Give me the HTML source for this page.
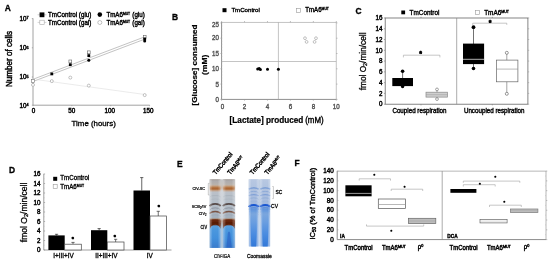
<!DOCTYPE html>
<html><head><meta charset="utf-8"><style>
html,body{margin:0;padding:0;background:#fff;}
body{width:550px;height:264px;overflow:hidden;}
svg{display:block;filter:blur(0.45px);font-family:"Liberation Sans",Arial,sans-serif;}
</style></head><body>
<svg width="550" height="264" viewBox="0 0 550 264">
<rect width="550" height="264" fill="#fff"/>
<text transform="translate(4.7,10.5) scale(0.86,1.0)" font-size="9.8" font-weight="bold" text-anchor="start" fill="#000" stroke="#000" style="stroke-width:0.36px" >A</text>
<line x1="37.6" y1="14.8" x2="46.4" y2="14.8" stroke="#aaa" stroke-width="0.6" />
<rect x="39.6" y="12.4" width="4.80" height="4.80" fill="#000" stroke="none" stroke-width="0.7"/>
<text transform="translate(48.0,17.2) scale(1,1.15)" font-size="6.25" font-weight="normal" text-anchor="start" fill="#000" stroke="#000" style="stroke-width:0.36px" >TmControl (glu)</text>
<line x1="37.6" y1="22.4" x2="46.4" y2="22.4" stroke="#bbb" stroke-width="0.6" />
<rect x="39.8" y="20.2" width="4.40" height="4.40" fill="#fff" stroke="#aaa" stroke-width="0.6"/>
<text transform="translate(48.0,25.1) scale(1,1.15)" font-size="6.25" font-weight="normal" text-anchor="start" fill="#000" stroke="#000" style="stroke-width:0.36px" >TmControl (gal)</text>
<circle cx="99.8" cy="14.6" r="2.3" fill="#000" stroke="none" stroke-width="0.7"/>
<text transform="translate(106.4,17.2) scale(1,1.15)" font-size="6.2" font-weight="normal" text-anchor="start" fill="#000" stroke="#000" style="stroke-width:0.36px" >TmA6<tspan font-size="3.3" dy="-1.7">MUT</tspan><tspan dy="1.7" dx="0.6"> (glu)</tspan></text>
<circle cx="99.8" cy="22.5" r="2.0" fill="#fff" stroke="#999" stroke-width="0.6"/>
<text transform="translate(106.4,25.1) scale(1,1.15)" font-size="6.2" font-weight="normal" text-anchor="start" fill="#000" stroke="#000" style="stroke-width:0.36px" >TmA6<tspan font-size="3.3" dy="-1.7">MUT</tspan><tspan dy="1.7" dx="0.6"> (gal)</tspan></text>
<line x1="33.0" y1="18.3" x2="33.0" y2="105.2" stroke="#8a8a8a" stroke-width="0.8" />
<line x1="33.0" y1="105.2" x2="149.7" y2="105.2" stroke="#8a8a8a" stroke-width="0.8" />
<line x1="31.8" y1="18.6" x2="33" y2="18.6" stroke="#888" stroke-width="0.6" />
<text transform="translate(28.6,21.0) scale(1,1.05)" font-size="6.3" font-weight="normal" text-anchor="end" fill="#000" stroke="#000" style="stroke-width:0.42px" >10<tspan font-size="3.8" dy="-1.6">7</tspan></text>
<line x1="31.8" y1="47.8" x2="33" y2="47.8" stroke="#888" stroke-width="0.6" />
<text transform="translate(28.6,50.199999999999996) scale(1,1.05)" font-size="6.3" font-weight="normal" text-anchor="end" fill="#000" stroke="#000" style="stroke-width:0.42px" >10<tspan font-size="3.8" dy="-1.6">6</tspan></text>
<line x1="31.8" y1="77.0" x2="33" y2="77.0" stroke="#888" stroke-width="0.6" />
<text transform="translate(28.6,79.4) scale(1,1.05)" font-size="6.3" font-weight="normal" text-anchor="end" fill="#000" stroke="#000" style="stroke-width:0.42px" >10<tspan font-size="3.8" dy="-1.6">5</tspan></text>
<line x1="31.8" y1="105.2" x2="33" y2="105.2" stroke="#888" stroke-width="0.6" />
<text transform="translate(28.6,107.60000000000001) scale(1,1.05)" font-size="6.3" font-weight="normal" text-anchor="end" fill="#000" stroke="#000" style="stroke-width:0.42px" >10<tspan font-size="3.8" dy="-1.6">4</tspan></text>
<line x1="33.0" y1="105.2" x2="33.0" y2="106.2" stroke="#888" stroke-width="0.6" />
<text transform="translate(33.4,112.7) scale(1,1.05)" font-size="6.3" font-weight="normal" text-anchor="middle" fill="#000" stroke="#000" style="stroke-width:0.42px" >0</text>
<line x1="71.86500000000001" y1="105.2" x2="71.86500000000001" y2="106.2" stroke="#888" stroke-width="0.6" />
<text transform="translate(71.8,112.7) scale(1,1.05)" font-size="6.3" font-weight="normal" text-anchor="middle" fill="#000" stroke="#000" style="stroke-width:0.42px" >50</text>
<line x1="110.73" y1="105.2" x2="110.73" y2="106.2" stroke="#888" stroke-width="0.6" />
<text transform="translate(109.8,112.7) scale(1,1.05)" font-size="6.3" font-weight="normal" text-anchor="middle" fill="#000" stroke="#000" style="stroke-width:0.42px" >100</text>
<line x1="149.595" y1="105.2" x2="149.595" y2="106.2" stroke="#888" stroke-width="0.6" />
<text transform="translate(148.2,112.7) scale(1,1.05)" font-size="6.3" font-weight="normal" text-anchor="middle" fill="#000" stroke="#000" style="stroke-width:0.42px" >150</text>
<text transform="translate(71.6,126.4) scale(1,1.0)" font-size="7.85" font-weight="normal" text-anchor="start" fill="#000" stroke="#000" style="stroke-width:0.32px" >Time (hours)</text>
<text transform="translate(12.4,58.9) rotate(-90) scale(1,1.12)" font-size="8.1" font-weight="normal" text-anchor="middle" fill="#000" stroke="#000" style="stroke-width:0.4px">Number of cells</text>
<line x1="33" y1="79.3" x2="143.8" y2="37.2" stroke="#bcbcbc" stroke-width="0.9" />
<line x1="33" y1="81.5" x2="143.8" y2="39.5" stroke="#bcbcbc" stroke-width="0.9" />
<line x1="38" y1="79.8" x2="145.5" y2="94.6" stroke="#dedede" stroke-width="0.6" />
<rect x="31.5" y="79.4" width="3.00" height="3.00" fill="#fff" stroke="#777" stroke-width="0.6"/>
<circle cx="33" cy="84.9" r="1.5" fill="#fff" stroke="#999" stroke-width="0.6"/>
<circle cx="51.8" cy="81.1" r="1.5" fill="#fff" stroke="#999" stroke-width="0.6"/>
<circle cx="70.3" cy="77.6" r="1.5" fill="#fff" stroke="#999" stroke-width="0.6"/>
<circle cx="88.8" cy="85.6" r="1.5" fill="#fff" stroke="#999" stroke-width="0.6"/>
<circle cx="144.7" cy="95.1" r="1.5" fill="#fff" stroke="#999" stroke-width="0.6"/>
<rect x="68.89999999999999" y="60.0" width="2.80" height="2.80" fill="#fff" stroke="#666" stroke-width="0.6"/>
<rect x="87.39999999999999" y="50.9" width="2.80" height="2.80" fill="#fff" stroke="#666" stroke-width="0.6"/>
<rect x="143.29999999999998" y="35.5" width="2.80" height="2.80" fill="#fff" stroke="#666" stroke-width="0.6"/>
<rect x="50.4" y="72.5" width="2.80" height="2.80" fill="#000" stroke="none" stroke-width="0.7"/>
<rect x="68.89999999999999" y="63.300000000000004" width="2.80" height="2.80" fill="#000" stroke="none" stroke-width="0.7"/>
<rect x="87.39999999999999" y="54.2" width="2.80" height="2.80" fill="#000" stroke="none" stroke-width="0.7"/>
<rect x="143.29999999999998" y="37.5" width="2.80" height="2.80" fill="#000" stroke="none" stroke-width="0.7"/>
<circle cx="88.8" cy="60.2" r="1.5" fill="#000" stroke="none" stroke-width="0.7"/>
<circle cx="144.7" cy="41.0" r="1.5" fill="#000" stroke="none" stroke-width="0.7"/>
<text transform="translate(172.0,20.2) scale(0.86,1.0)" font-size="9.8" font-weight="bold" text-anchor="start" fill="#000" stroke="#000" style="stroke-width:0.36px" >B</text>
<rect x="222.5" y="8.2" width="4.00" height="4.00" fill="#000" stroke="none" stroke-width="0.7"/>
<text transform="translate(231.4,12.4) scale(1,1.0)" font-size="6.1" font-weight="normal" text-anchor="start" fill="#000" stroke="#000" style="stroke-width:0.36px" >TmControl</text>
<rect x="296.5" y="8.4" width="4.00" height="4.00" fill="#fff" stroke="#999" stroke-width="0.6"/>
<text transform="translate(305.3,12.4) scale(1,1.05)" font-size="6.1" font-weight="normal" text-anchor="start" fill="#000" stroke="#000" style="stroke-width:0.36px" >TmA6<tspan font-size="3.4" dy="-2.0">MUT</tspan></text>
<rect x="221.6" y="22.3" width="114.60" height="77.10" fill="none" stroke="#aaa" stroke-width="0.7"/>
<line x1="221.6" y1="22.3" x2="221.6" y2="99.4" stroke="#888" stroke-width="0.8" />
<line x1="221.6" y1="99.4" x2="336.2" y2="99.4" stroke="#888" stroke-width="0.8" />
<line x1="220.29999999999998" y1="99.4" x2="221.6" y2="99.4" stroke="#999" stroke-width="0.6" />
<line x1="336.2" y1="99.4" x2="337.5" y2="99.4" stroke="#999" stroke-width="0.6" />
<text transform="translate(219.0,102.2) scale(1,1.15)" font-size="6.2" font-weight="normal" text-anchor="end" fill="#555" stroke="#555" style="stroke-width:0.36px" >0</text>
<line x1="220.29999999999998" y1="84.10000000000001" x2="221.6" y2="84.10000000000001" stroke="#999" stroke-width="0.6" />
<line x1="336.2" y1="84.10000000000001" x2="337.5" y2="84.10000000000001" stroke="#999" stroke-width="0.6" />
<text transform="translate(219.0,87.10000000000001) scale(1,1.15)" font-size="6.2" font-weight="normal" text-anchor="end" fill="#555" stroke="#555" style="stroke-width:0.36px" >5</text>
<line x1="220.29999999999998" y1="68.80000000000001" x2="221.6" y2="68.80000000000001" stroke="#999" stroke-width="0.6" />
<line x1="336.2" y1="68.80000000000001" x2="337.5" y2="68.80000000000001" stroke="#999" stroke-width="0.6" />
<text transform="translate(219.0,70.9) scale(1,1.15)" font-size="6.2" font-weight="normal" text-anchor="end" fill="#555" stroke="#555" style="stroke-width:0.36px" >10</text>
<line x1="220.29999999999998" y1="53.50000000000001" x2="221.6" y2="53.50000000000001" stroke="#999" stroke-width="0.6" />
<line x1="336.2" y1="53.50000000000001" x2="337.5" y2="53.50000000000001" stroke="#999" stroke-width="0.6" />
<text transform="translate(219.0,56.1) scale(1,1.15)" font-size="6.2" font-weight="normal" text-anchor="end" fill="#555" stroke="#555" style="stroke-width:0.36px" >15</text>
<line x1="220.29999999999998" y1="38.2" x2="221.6" y2="38.2" stroke="#999" stroke-width="0.6" />
<line x1="336.2" y1="38.2" x2="337.5" y2="38.2" stroke="#999" stroke-width="0.6" />
<text transform="translate(219.0,40.2) scale(1,1.15)" font-size="6.2" font-weight="normal" text-anchor="end" fill="#555" stroke="#555" style="stroke-width:0.36px" >20</text>
<line x1="220.29999999999998" y1="22.900000000000006" x2="221.6" y2="22.900000000000006" stroke="#999" stroke-width="0.6" />
<line x1="336.2" y1="22.900000000000006" x2="337.5" y2="22.900000000000006" stroke="#999" stroke-width="0.6" />
<text transform="translate(219.0,27.0) scale(1,1.15)" font-size="6.2" font-weight="normal" text-anchor="end" fill="#555" stroke="#555" style="stroke-width:0.36px" >25</text>
<line x1="221.6" y1="99.4" x2="222.4" y2="99.4" stroke="#bbb" stroke-width="0.4" />
<line x1="221.6" y1="96.34" x2="222.4" y2="96.34" stroke="#bbb" stroke-width="0.4" />
<line x1="221.6" y1="93.28" x2="222.4" y2="93.28" stroke="#bbb" stroke-width="0.4" />
<line x1="221.6" y1="90.22" x2="222.4" y2="90.22" stroke="#bbb" stroke-width="0.4" />
<line x1="221.6" y1="87.16000000000001" x2="222.4" y2="87.16000000000001" stroke="#bbb" stroke-width="0.4" />
<line x1="221.6" y1="84.10000000000001" x2="222.4" y2="84.10000000000001" stroke="#bbb" stroke-width="0.4" />
<line x1="221.6" y1="81.04" x2="222.4" y2="81.04" stroke="#bbb" stroke-width="0.4" />
<line x1="221.6" y1="77.98" x2="222.4" y2="77.98" stroke="#bbb" stroke-width="0.4" />
<line x1="221.6" y1="74.92" x2="222.4" y2="74.92" stroke="#bbb" stroke-width="0.4" />
<line x1="221.6" y1="71.86000000000001" x2="222.4" y2="71.86000000000001" stroke="#bbb" stroke-width="0.4" />
<line x1="221.6" y1="68.80000000000001" x2="222.4" y2="68.80000000000001" stroke="#bbb" stroke-width="0.4" />
<line x1="221.6" y1="65.74000000000001" x2="222.4" y2="65.74000000000001" stroke="#bbb" stroke-width="0.4" />
<line x1="221.6" y1="62.68000000000001" x2="222.4" y2="62.68000000000001" stroke="#bbb" stroke-width="0.4" />
<line x1="221.6" y1="59.620000000000005" x2="222.4" y2="59.620000000000005" stroke="#bbb" stroke-width="0.4" />
<line x1="221.6" y1="56.56" x2="222.4" y2="56.56" stroke="#bbb" stroke-width="0.4" />
<line x1="221.6" y1="53.50000000000001" x2="222.4" y2="53.50000000000001" stroke="#bbb" stroke-width="0.4" />
<line x1="221.6" y1="50.440000000000005" x2="222.4" y2="50.440000000000005" stroke="#bbb" stroke-width="0.4" />
<line x1="221.6" y1="47.38" x2="222.4" y2="47.38" stroke="#bbb" stroke-width="0.4" />
<line x1="221.6" y1="44.32000000000001" x2="222.4" y2="44.32000000000001" stroke="#bbb" stroke-width="0.4" />
<line x1="221.6" y1="41.260000000000005" x2="222.4" y2="41.260000000000005" stroke="#bbb" stroke-width="0.4" />
<line x1="221.6" y1="38.2" x2="222.4" y2="38.2" stroke="#bbb" stroke-width="0.4" />
<line x1="221.6" y1="35.14" x2="222.4" y2="35.14" stroke="#bbb" stroke-width="0.4" />
<line x1="221.6" y1="32.08" x2="222.4" y2="32.08" stroke="#bbb" stroke-width="0.4" />
<line x1="221.6" y1="29.02000000000001" x2="222.4" y2="29.02000000000001" stroke="#bbb" stroke-width="0.4" />
<line x1="221.6" y1="25.960000000000008" x2="222.4" y2="25.960000000000008" stroke="#bbb" stroke-width="0.4" />
<line x1="221.6" y1="22.900000000000006" x2="222.4" y2="22.900000000000006" stroke="#bbb" stroke-width="0.4" />
<line x1="221.6" y1="99.4" x2="221.6" y2="100.7" stroke="#999" stroke-width="0.6" />
<line x1="221.6" y1="21.0" x2="221.6" y2="22.3" stroke="#999" stroke-width="0.6" />
<text transform="translate(222.6,108.7) scale(1,1.15)" font-size="6.2" font-weight="normal" text-anchor="middle" fill="#555" stroke="#555" style="stroke-width:0.36px" >0</text>
<line x1="244.54" y1="99.4" x2="244.54" y2="100.7" stroke="#999" stroke-width="0.6" />
<line x1="244.54" y1="21.0" x2="244.54" y2="22.3" stroke="#999" stroke-width="0.6" />
<text transform="translate(244.54,108.7) scale(1,1.15)" font-size="6.2" font-weight="normal" text-anchor="middle" fill="#555" stroke="#555" style="stroke-width:0.36px" >2</text>
<line x1="267.48" y1="99.4" x2="267.48" y2="100.7" stroke="#999" stroke-width="0.6" />
<line x1="267.48" y1="21.0" x2="267.48" y2="22.3" stroke="#999" stroke-width="0.6" />
<text transform="translate(267.48,108.7) scale(1,1.15)" font-size="6.2" font-weight="normal" text-anchor="middle" fill="#555" stroke="#555" style="stroke-width:0.36px" >4</text>
<line x1="290.42" y1="99.4" x2="290.42" y2="100.7" stroke="#999" stroke-width="0.6" />
<line x1="290.42" y1="21.0" x2="290.42" y2="22.3" stroke="#999" stroke-width="0.6" />
<text transform="translate(290.42,108.7) scale(1,1.15)" font-size="6.2" font-weight="normal" text-anchor="middle" fill="#555" stroke="#555" style="stroke-width:0.36px" >6</text>
<line x1="313.36" y1="99.4" x2="313.36" y2="100.7" stroke="#999" stroke-width="0.6" />
<line x1="313.36" y1="21.0" x2="313.36" y2="22.3" stroke="#999" stroke-width="0.6" />
<text transform="translate(313.36,108.7) scale(1,1.15)" font-size="6.2" font-weight="normal" text-anchor="middle" fill="#555" stroke="#555" style="stroke-width:0.36px" >8</text>
<line x1="336.3" y1="99.4" x2="336.3" y2="100.7" stroke="#999" stroke-width="0.6" />
<line x1="336.3" y1="21.0" x2="336.3" y2="22.3" stroke="#999" stroke-width="0.6" />
<text transform="translate(336.3,108.7) scale(1,1.15)" font-size="6.2" font-weight="normal" text-anchor="middle" fill="#555" stroke="#555" style="stroke-width:0.36px" >10</text>
<line x1="278.4" y1="22.3" x2="278.4" y2="99.4" stroke="#aaa" stroke-width="0.7" />
<line x1="221.6" y1="61.5" x2="336.2" y2="61.5" stroke="#aaa" stroke-width="0.7" />
<circle cx="257.7" cy="69.0" r="1.5" fill="#000" stroke="none" stroke-width="0.7"/>
<circle cx="259.2" cy="68.4" r="1.5" fill="#000" stroke="none" stroke-width="0.7"/>
<circle cx="260.4" cy="69.4" r="1.5" fill="#000" stroke="none" stroke-width="0.7"/>
<circle cx="267.5" cy="69.2" r="1.5" fill="#000" stroke="none" stroke-width="0.7"/>
<circle cx="278.4" cy="69.2" r="1.5" fill="#000" stroke="none" stroke-width="0.7"/>
<circle cx="305" cy="38.2" r="1.4" fill="#fff" stroke="#999" stroke-width="0.6"/>
<circle cx="306.6" cy="41.9" r="1.4" fill="#fff" stroke="#999" stroke-width="0.6"/>
<circle cx="316" cy="38.2" r="1.4" fill="#fff" stroke="#999" stroke-width="0.6"/>
<circle cx="314.6" cy="41.9" r="1.4" fill="#fff" stroke="#999" stroke-width="0.6"/>
<text transform="translate(197.0,65.0) rotate(-90) scale(1,0.95)" font-size="8.2" font-weight="bold" text-anchor="middle" fill="#000" stroke="#000" style="stroke-width:0.22px">[Glucose] consumed</text>
<text transform="translate(207.1,64.8) rotate(-90) scale(1,0.9)" font-size="8.5" font-weight="bold" text-anchor="middle" fill="#000" stroke="#000" style="stroke-width:0.22px">(mM)</text>
<text transform="translate(229.6,122.5) scale(1,1.1)" font-size="8.2" font-weight="bold" text-anchor="start" fill="#000" stroke="#000" style="stroke-width:0.22px" >[Lactate] produced</text>
<text transform="translate(305.2,122.5) scale(1,1.05)" font-size="7.9" font-weight="normal" text-anchor="start" fill="#000" stroke="#000" style="stroke-width:0.36px" >(mM)</text>
<text transform="translate(355.6,13.6) scale(0.86,1.0)" font-size="9.8" font-weight="bold" text-anchor="start" fill="#000" stroke="#000" style="stroke-width:0.36px" >C</text>
<rect x="401.3" y="10.5" width="3.80" height="3.80" fill="#000" stroke="none" stroke-width="0.7"/>
<text transform="translate(409.6,14.9) scale(1,1.05)" font-size="6.4" font-weight="normal" text-anchor="start" fill="#000" stroke="#000" style="stroke-width:0.36px" >TmControl</text>
<rect x="475.6" y="10.5" width="3.80" height="3.80" fill="#fff" stroke="#999" stroke-width="0.6"/>
<text transform="translate(484.2,14.9) scale(1,1.05)" font-size="6.4" font-weight="normal" text-anchor="start" fill="#000" stroke="#000" style="stroke-width:0.36px" >TmA6<tspan font-size="3.6" dy="-1.6">MUT</tspan></text>
<rect x="385.2" y="18.0" width="142.70" height="86.20" fill="none" stroke="#666" stroke-width="0.8"/>
<line x1="456.7" y1="18.0" x2="456.7" y2="104.2" stroke="#888" stroke-width="0.7" />
<line x1="383.9" y1="104.2" x2="385.2" y2="104.2" stroke="#777" stroke-width="0.6" />
<line x1="527.9" y1="104.2" x2="529.1999999999999" y2="104.2" stroke="#999" stroke-width="0.6" />
<text transform="translate(382.6,106.4) scale(1,1.05)" font-size="6.3" font-weight="normal" text-anchor="end" fill="#000" stroke="#000" style="stroke-width:0.42px" >0</text>
<line x1="383.9" y1="93.42" x2="385.2" y2="93.42" stroke="#777" stroke-width="0.6" />
<line x1="527.9" y1="93.42" x2="529.1999999999999" y2="93.42" stroke="#999" stroke-width="0.6" />
<text transform="translate(382.6,95.62) scale(1,1.05)" font-size="6.3" font-weight="normal" text-anchor="end" fill="#000" stroke="#000" style="stroke-width:0.42px" >2</text>
<line x1="383.9" y1="82.64" x2="385.2" y2="82.64" stroke="#777" stroke-width="0.6" />
<line x1="527.9" y1="82.64" x2="529.1999999999999" y2="82.64" stroke="#999" stroke-width="0.6" />
<text transform="translate(382.6,84.84) scale(1,1.05)" font-size="6.3" font-weight="normal" text-anchor="end" fill="#000" stroke="#000" style="stroke-width:0.42px" >4</text>
<line x1="383.9" y1="71.86000000000001" x2="385.2" y2="71.86000000000001" stroke="#777" stroke-width="0.6" />
<line x1="527.9" y1="71.86000000000001" x2="529.1999999999999" y2="71.86000000000001" stroke="#999" stroke-width="0.6" />
<text transform="translate(382.6,74.06000000000002) scale(1,1.05)" font-size="6.3" font-weight="normal" text-anchor="end" fill="#000" stroke="#000" style="stroke-width:0.42px" >6</text>
<line x1="383.9" y1="61.080000000000005" x2="385.2" y2="61.080000000000005" stroke="#777" stroke-width="0.6" />
<line x1="527.9" y1="61.080000000000005" x2="529.1999999999999" y2="61.080000000000005" stroke="#999" stroke-width="0.6" />
<text transform="translate(382.6,63.28000000000001) scale(1,1.05)" font-size="6.3" font-weight="normal" text-anchor="end" fill="#000" stroke="#000" style="stroke-width:0.42px" >8</text>
<line x1="383.9" y1="50.300000000000004" x2="385.2" y2="50.300000000000004" stroke="#777" stroke-width="0.6" />
<line x1="527.9" y1="50.300000000000004" x2="529.1999999999999" y2="50.300000000000004" stroke="#999" stroke-width="0.6" />
<text transform="translate(382.6,52.50000000000001) scale(1,1.05)" font-size="6.3" font-weight="normal" text-anchor="end" fill="#000" stroke="#000" style="stroke-width:0.42px" >10</text>
<line x1="383.9" y1="39.52000000000001" x2="385.2" y2="39.52000000000001" stroke="#777" stroke-width="0.6" />
<line x1="527.9" y1="39.52000000000001" x2="529.1999999999999" y2="39.52000000000001" stroke="#999" stroke-width="0.6" />
<text transform="translate(382.6,41.72000000000001) scale(1,1.05)" font-size="6.3" font-weight="normal" text-anchor="end" fill="#000" stroke="#000" style="stroke-width:0.42px" >12</text>
<line x1="383.9" y1="28.74000000000001" x2="385.2" y2="28.74000000000001" stroke="#777" stroke-width="0.6" />
<line x1="527.9" y1="28.74000000000001" x2="529.1999999999999" y2="28.74000000000001" stroke="#999" stroke-width="0.6" />
<text transform="translate(382.6,30.94000000000001) scale(1,1.05)" font-size="6.3" font-weight="normal" text-anchor="end" fill="#000" stroke="#000" style="stroke-width:0.42px" >14</text>
<line x1="383.9" y1="17.960000000000008" x2="385.2" y2="17.960000000000008" stroke="#777" stroke-width="0.6" />
<line x1="527.9" y1="17.960000000000008" x2="529.1999999999999" y2="17.960000000000008" stroke="#999" stroke-width="0.6" />
<text transform="translate(382.6,20.160000000000007) scale(1,1.05)" font-size="6.3" font-weight="normal" text-anchor="end" fill="#000" stroke="#000" style="stroke-width:0.42px" >16</text>
<line x1="385.2" y1="104.2" x2="386.0" y2="104.2" stroke="#aaa" stroke-width="0.4" />
<line x1="385.2" y1="98.81" x2="386.0" y2="98.81" stroke="#aaa" stroke-width="0.4" />
<line x1="385.2" y1="93.42" x2="386.0" y2="93.42" stroke="#aaa" stroke-width="0.4" />
<line x1="385.2" y1="88.03" x2="386.0" y2="88.03" stroke="#aaa" stroke-width="0.4" />
<line x1="385.2" y1="82.64" x2="386.0" y2="82.64" stroke="#aaa" stroke-width="0.4" />
<line x1="385.2" y1="77.25" x2="386.0" y2="77.25" stroke="#aaa" stroke-width="0.4" />
<line x1="385.2" y1="71.86000000000001" x2="386.0" y2="71.86000000000001" stroke="#aaa" stroke-width="0.4" />
<line x1="385.2" y1="66.47" x2="386.0" y2="66.47" stroke="#aaa" stroke-width="0.4" />
<line x1="385.2" y1="61.080000000000005" x2="386.0" y2="61.080000000000005" stroke="#aaa" stroke-width="0.4" />
<line x1="385.2" y1="55.690000000000005" x2="386.0" y2="55.690000000000005" stroke="#aaa" stroke-width="0.4" />
<line x1="385.2" y1="50.300000000000004" x2="386.0" y2="50.300000000000004" stroke="#aaa" stroke-width="0.4" />
<line x1="385.2" y1="44.910000000000004" x2="386.0" y2="44.910000000000004" stroke="#aaa" stroke-width="0.4" />
<line x1="385.2" y1="39.52000000000001" x2="386.0" y2="39.52000000000001" stroke="#aaa" stroke-width="0.4" />
<line x1="385.2" y1="34.13000000000001" x2="386.0" y2="34.13000000000001" stroke="#aaa" stroke-width="0.4" />
<line x1="385.2" y1="28.74000000000001" x2="386.0" y2="28.74000000000001" stroke="#aaa" stroke-width="0.4" />
<line x1="385.2" y1="23.35000000000001" x2="386.0" y2="23.35000000000001" stroke="#aaa" stroke-width="0.4" />
<line x1="385.2" y1="17.960000000000008" x2="386.0" y2="17.960000000000008" stroke="#aaa" stroke-width="0.4" />
<line x1="421" y1="104.2" x2="421" y2="105.4" stroke="#777" stroke-width="0.6" />
<line x1="421" y1="16.8" x2="421" y2="18.0" stroke="#777" stroke-width="0.6" />
<line x1="492.3" y1="104.2" x2="492.3" y2="105.4" stroke="#777" stroke-width="0.6" />
<line x1="492.3" y1="16.8" x2="492.3" y2="18.0" stroke="#777" stroke-width="0.6" />
<line x1="402.6" y1="71" x2="402.6" y2="86.5" stroke="#333" stroke-width="0.7" />
<rect x="392.3" y="78" width="20.70" height="8.10" fill="#000" stroke="none" stroke-width="0.8"/>
<circle cx="402.6" cy="71.2" r="1.8" fill="#000" stroke="none" stroke-width="0.7"/>
<circle cx="402.6" cy="86.6" r="1.7" fill="#000" stroke="none" stroke-width="0.7"/>
<line x1="437" y1="89.3" x2="437" y2="99.1" stroke="#777" stroke-width="0.6" />
<rect x="426" y="92.2" width="21.40" height="4.90" fill="#cfcfcf" stroke="#888" stroke-width="0.7"/>
<line x1="426" y1="94.7" x2="447.4" y2="94.7" stroke="#999" stroke-width="0.5" />
<circle cx="437" cy="89.4" r="1.4" fill="#fff" stroke="#666" stroke-width="0.6"/>
<circle cx="437" cy="99.1" r="1.4" fill="#fff" stroke="#666" stroke-width="0.6"/>
<polyline points="403.4,57.4 403.4,55.2 439.9,55.2 439.9,57.4" fill="none" stroke="#999" stroke-width="0.55"/>
<text transform="translate(420.7,55.894999999999996) scale(1,1.0)" font-size="7.0" font-weight="bold" text-anchor="middle" fill="#000" stroke="#000" style="stroke-width:0.6px" >*</text>
<line x1="473.5" y1="27" x2="473.5" y2="68.6" stroke="#333" stroke-width="0.7" />
<rect x="463" y="43.6" width="21.10" height="20.50" fill="#000" stroke="none" stroke-width="0.8"/>
<line x1="463" y1="59.3" x2="484.1" y2="59.3" stroke="#ddd" stroke-width="0.8" />
<circle cx="473.5" cy="27.2" r="1.9" fill="#000" stroke="none" stroke-width="0.7"/>
<circle cx="473.5" cy="68.5" r="1.8" fill="#000" stroke="none" stroke-width="0.7"/>
<line x1="506.8" y1="52.7" x2="506.8" y2="93.8" stroke="#666" stroke-width="0.6" />
<rect x="496.4" y="60.1" width="21.50" height="21.70" fill="#fff" stroke="#666" stroke-width="0.7"/>
<line x1="496.4" y1="69.1" x2="517.9" y2="69.1" stroke="#888" stroke-width="0.6" />
<circle cx="506.8" cy="52.8" r="1.5" fill="#fff" stroke="#555" stroke-width="0.6"/>
<circle cx="506.8" cy="93.8" r="1.5" fill="#fff" stroke="#555" stroke-width="0.6"/>
<polyline points="472.7,24.9 472.7,23.2 506.8,23.2 506.8,24.9" fill="none" stroke="#999" stroke-width="0.55"/>
<text transform="translate(490.2,24.895) scale(1,1.0)" font-size="7.0" font-weight="bold" text-anchor="middle" fill="#000" stroke="#000" style="stroke-width:0.6px" >*</text>
<text transform="translate(392.4,112.8) scale(1,1.15)" font-size="6.25" font-weight="normal" text-anchor="start" fill="#000" stroke="#000" style="stroke-width:0.36px" >Coupled respiration</text>
<text transform="translate(463.9,112.8) scale(1,1.15)" font-size="6.25" font-weight="normal" text-anchor="start" fill="#000" stroke="#000" style="stroke-width:0.36px" >Uncoupled respiration</text>
<text transform="translate(365.6,61.4) rotate(-90) scale(1,1.0)" font-size="8.3" font-weight="normal" text-anchor="middle" fill="#000" stroke="#000" style="stroke-width:0.28px">fmol O<tspan font-size="5.4" dy="1.2">2</tspan><tspan dy="-1.2">/min/cell</tspan></text>
<text transform="translate(8.9,173.4) scale(0.86,1.0)" font-size="9.8" font-weight="bold" text-anchor="start" fill="#000" stroke="#000" style="stroke-width:0.36px" >D</text>
<line x1="43.8" y1="173.8" x2="43.8" y2="250.0" stroke="#888" stroke-width="0.8" />
<line x1="43.8" y1="250.0" x2="171.5" y2="250.0" stroke="#888" stroke-width="0.8" />
<line x1="43.8" y1="250.0" x2="45.099999999999994" y2="250.0" stroke="#888" stroke-width="0.6" />
<text transform="translate(40.6,252.3) scale(1,1.05)" font-size="6.3" font-weight="normal" text-anchor="end" fill="#000" stroke="#000" style="stroke-width:0.42px" >0</text>
<line x1="43.8" y1="240.5" x2="45.099999999999994" y2="240.5" stroke="#888" stroke-width="0.6" />
<text transform="translate(40.6,242.8) scale(1,1.05)" font-size="6.3" font-weight="normal" text-anchor="end" fill="#000" stroke="#000" style="stroke-width:0.42px" >2</text>
<line x1="43.8" y1="231.0" x2="45.099999999999994" y2="231.0" stroke="#888" stroke-width="0.6" />
<text transform="translate(40.6,233.3) scale(1,1.05)" font-size="6.3" font-weight="normal" text-anchor="end" fill="#000" stroke="#000" style="stroke-width:0.42px" >4</text>
<line x1="43.8" y1="221.5" x2="45.099999999999994" y2="221.5" stroke="#888" stroke-width="0.6" />
<text transform="translate(40.6,223.8) scale(1,1.05)" font-size="6.3" font-weight="normal" text-anchor="end" fill="#000" stroke="#000" style="stroke-width:0.42px" >6</text>
<line x1="43.8" y1="212.0" x2="45.099999999999994" y2="212.0" stroke="#888" stroke-width="0.6" />
<text transform="translate(40.6,214.3) scale(1,1.05)" font-size="6.3" font-weight="normal" text-anchor="end" fill="#000" stroke="#000" style="stroke-width:0.42px" >8</text>
<line x1="43.8" y1="202.5" x2="45.099999999999994" y2="202.5" stroke="#888" stroke-width="0.6" />
<text transform="translate(40.6,204.8) scale(1,1.05)" font-size="6.3" font-weight="normal" text-anchor="end" fill="#000" stroke="#000" style="stroke-width:0.42px" >10</text>
<line x1="43.8" y1="193.0" x2="45.099999999999994" y2="193.0" stroke="#888" stroke-width="0.6" />
<text transform="translate(40.6,195.3) scale(1,1.05)" font-size="6.3" font-weight="normal" text-anchor="end" fill="#000" stroke="#000" style="stroke-width:0.42px" >12</text>
<line x1="43.8" y1="183.5" x2="45.099999999999994" y2="183.5" stroke="#888" stroke-width="0.6" />
<text transform="translate(40.6,185.8) scale(1,1.05)" font-size="6.3" font-weight="normal" text-anchor="end" fill="#000" stroke="#000" style="stroke-width:0.42px" >14</text>
<line x1="43.8" y1="174.0" x2="45.099999999999994" y2="174.0" stroke="#888" stroke-width="0.6" />
<text transform="translate(40.6,176.3) scale(1,1.05)" font-size="6.3" font-weight="normal" text-anchor="end" fill="#000" stroke="#000" style="stroke-width:0.42px" >16</text>
<line x1="43.8" y1="245.25" x2="44.599999999999994" y2="245.25" stroke="#aaa" stroke-width="0.4" />
<line x1="43.8" y1="235.75" x2="44.599999999999994" y2="235.75" stroke="#aaa" stroke-width="0.4" />
<line x1="43.8" y1="226.25" x2="44.599999999999994" y2="226.25" stroke="#aaa" stroke-width="0.4" />
<line x1="43.8" y1="216.75" x2="44.599999999999994" y2="216.75" stroke="#aaa" stroke-width="0.4" />
<line x1="43.8" y1="207.25" x2="44.599999999999994" y2="207.25" stroke="#aaa" stroke-width="0.4" />
<line x1="43.8" y1="197.75" x2="44.599999999999994" y2="197.75" stroke="#aaa" stroke-width="0.4" />
<line x1="43.8" y1="188.25" x2="44.599999999999994" y2="188.25" stroke="#aaa" stroke-width="0.4" />
<line x1="43.8" y1="178.75" x2="44.599999999999994" y2="178.75" stroke="#aaa" stroke-width="0.4" />
<rect x="53.2" y="176.8" width="4.00" height="4.00" fill="#000" stroke="none" stroke-width="0.7"/>
<text transform="translate(60.3,179.9) scale(1,1.15)" font-size="6.2" font-weight="normal" text-anchor="start" fill="#000" stroke="#000" style="stroke-width:0.3px" >TmControl</text>
<rect x="53.2" y="184.3" width="4.00" height="4.00" fill="#fff" stroke="#999" stroke-width="0.6"/>
<text transform="translate(60.3,189.2) scale(1,1.15)" font-size="6.2" font-weight="normal" text-anchor="start" fill="#000" stroke="#000" style="stroke-width:0.3px" >TmA6<tspan font-size="3.4" dy="-1.5">MUT</tspan></text>
<line x1="56.55" y1="234.3" x2="56.55" y2="235.4" stroke="#222" stroke-width="0.7" />
<line x1="54.949999999999996" y1="234.3" x2="58.15" y2="234.3" stroke="#222" stroke-width="0.7" />
<rect x="48.4" y="235.4" width="16.30" height="14.60" fill="#000" stroke="none" stroke-width="0.8"/>
<line x1="73.0" y1="242.4" x2="73.0" y2="244.2" stroke="#333" stroke-width="0.7" />
<line x1="71.4" y1="242.4" x2="74.6" y2="242.4" stroke="#333" stroke-width="0.7" />
<rect x="64.7" y="244.2" width="16.60" height="5.80" fill="#fff" stroke="#444" stroke-width="0.7"/>
<text transform="translate(72.9,241.059) scale(1,1.0)" font-size="5.4" font-weight="bold" text-anchor="middle" fill="#000" stroke="#000" style="stroke-width:0.6px" >*</text>
<line x1="99.15" y1="228.6" x2="99.15" y2="230.2" stroke="#222" stroke-width="0.7" />
<line x1="97.55000000000001" y1="228.6" x2="100.75" y2="228.6" stroke="#222" stroke-width="0.7" />
<rect x="91.0" y="230.2" width="16.30" height="19.80" fill="#000" stroke="none" stroke-width="0.8"/>
<line x1="115.65" y1="239.3" x2="115.65" y2="242.0" stroke="#333" stroke-width="0.7" />
<line x1="114.05000000000001" y1="239.3" x2="117.25" y2="239.3" stroke="#333" stroke-width="0.7" />
<rect x="107.3" y="242.0" width="16.70" height="8.00" fill="#fff" stroke="#444" stroke-width="0.7"/>
<text transform="translate(114.7,238.759) scale(1,1.0)" font-size="5.4" font-weight="bold" text-anchor="middle" fill="#000" stroke="#000" style="stroke-width:0.6px" >*</text>
<line x1="141.75" y1="177.6" x2="141.75" y2="190.5" stroke="#222" stroke-width="0.7" />
<line x1="140.15" y1="177.6" x2="143.35" y2="177.6" stroke="#222" stroke-width="0.7" />
<rect x="133.5" y="190.5" width="16.50" height="59.50" fill="#000" stroke="none" stroke-width="0.8"/>
<line x1="158.25" y1="211.3" x2="158.25" y2="216.0" stroke="#333" stroke-width="0.7" />
<line x1="156.65" y1="211.3" x2="159.85" y2="211.3" stroke="#333" stroke-width="0.7" />
<rect x="150.0" y="216.0" width="16.50" height="34.00" fill="#fff" stroke="#444" stroke-width="0.7"/>
<text transform="translate(158.7,208.959) scale(1,1.0)" font-size="5.4" font-weight="bold" text-anchor="middle" fill="#000" stroke="#000" style="stroke-width:0.6px" >*</text>
<text transform="translate(63.5,258.4) scale(1,1.15)" font-size="6.4" font-weight="normal" text-anchor="middle" fill="#000" stroke="#000" style="stroke-width:0.3px" >I+III+IV</text>
<text transform="translate(106.3,258.4) scale(1,1.15)" font-size="6.4" font-weight="normal" text-anchor="middle" fill="#000" stroke="#000" style="stroke-width:0.3px" >II+III+IV</text>
<text transform="translate(149.8,258.4) scale(1,1.15)" font-size="6.4" font-weight="normal" text-anchor="middle" fill="#000" stroke="#000" style="stroke-width:0.3px" >IV</text>
<text transform="translate(27.0,212.4) rotate(-90) scale(1,1.0)" font-size="8.55" font-weight="normal" text-anchor="middle" fill="#000" stroke="#000" style="stroke-width:0.28px">fmol O<tspan font-size="5.6" dy="1.2">2</tspan><tspan dy="-1.2">/min/cell</tspan></text>
<text transform="translate(176.9,166.9) scale(0.86,1.0)" font-size="9.8" font-weight="bold" text-anchor="start" fill="#000" stroke="#000" style="stroke-width:0.36px" >E</text>
<defs><linearGradient id="gl1" gradientUnits="userSpaceOnUse" x1="0" y1="179.3" x2="0" y2="247.9"><stop offset="0.0000" stop-color="#a29a94"/><stop offset="0.0248" stop-color="#aeacae"/><stop offset="0.0758" stop-color="#b8b2ac"/><stop offset="0.0948" stop-color="#c4a68c"/><stop offset="0.1152" stop-color="#b87c4a"/><stop offset="0.1327" stop-color="#ac6634"/><stop offset="0.1501" stop-color="#b47a4c"/><stop offset="0.1676" stop-color="#c4aa98"/><stop offset="0.1880" stop-color="#bac0c8"/><stop offset="0.3382" stop-color="#b4bec8"/><stop offset="0.4038" stop-color="#b2bcc6"/><stop offset="0.4913" stop-color="#a8b4c0"/><stop offset="0.5569" stop-color="#a4b0bc"/><stop offset="0.5758" stop-color="#a49284"/><stop offset="0.5904" stop-color="#7a3414"/><stop offset="0.6224" stop-color="#5e1e06"/><stop offset="0.6516" stop-color="#6a2a10"/><stop offset="0.6837" stop-color="#5a9edc"/><stop offset="0.7245" stop-color="#4c98de"/><stop offset="0.8557" stop-color="#4290dc"/><stop offset="1.0000" stop-color="#3a7ccc"/></linearGradient><linearGradient id="gg1" gradientUnits="userSpaceOnUse" x1="0" y1="179.3" x2="0" y2="247.9"><stop offset="0.0000" stop-color="#c4c6c8"/><stop offset="0.0831" stop-color="#cac6c2"/><stop offset="0.1268" stop-color="#cfb8a6"/><stop offset="0.1706" stop-color="#d2d6dc"/><stop offset="0.5641" stop-color="#c8d0d8"/><stop offset="0.6079" stop-color="#b89a8a"/><stop offset="0.6662" stop-color="#b0b4bc"/><stop offset="0.7391" stop-color="#a8c4e0"/><stop offset="1.0000" stop-color="#a8c2dc"/></linearGradient><linearGradient id="gl2" gradientUnits="userSpaceOnUse" x1="0" y1="179.3" x2="0" y2="246.4"><stop offset="0.0000" stop-color="#b8c8e2"/><stop offset="0.1073" stop-color="#b2c4e0"/><stop offset="0.1744" stop-color="#aec0de"/><stop offset="0.3085" stop-color="#a8bcde"/><stop offset="0.3681" stop-color="#a2b8dc"/><stop offset="0.4277" stop-color="#6e9cdc"/><stop offset="0.4873" stop-color="#86aade"/><stop offset="0.5917" stop-color="#98b8e2"/><stop offset="0.6960" stop-color="#88aee2"/><stop offset="0.8450" stop-color="#80a8e0"/><stop offset="1.0000" stop-color="#7aa4e0"/></linearGradient><linearGradient id="gg2" gradientUnits="userSpaceOnUse" x1="0" y1="179.3" x2="0" y2="246.4"><stop offset="0.0000" stop-color="#c2d0e4"/><stop offset="0.3681" stop-color="#bccce2"/><stop offset="0.3979" stop-color="#96b6e2"/><stop offset="0.4277" stop-color="#c2d4ea"/><stop offset="1.0000" stop-color="#cadaee"/></linearGradient><linearGradient id="gw2" gradientUnits="userSpaceOnUse" x1="0" y1="209" x2="0" y2="246.4"><stop offset="0.0000" stop-color="#5c94dc"/><stop offset="0.1337" stop-color="#7aa6de"/><stop offset="0.3476" stop-color="#6a9ee0"/><stop offset="0.6684" stop-color="#4a8ce0"/><stop offset="1.0000" stop-color="#3278d8"/></linearGradient><linearGradient id="hz" x1="0" y1="0" x2="1" y2="0"><stop offset="0" stop-color="#fff" stop-opacity="0.35"/><stop offset="0.25" stop-color="#fff" stop-opacity="0"/><stop offset="0.75" stop-color="#fff" stop-opacity="0"/><stop offset="1" stop-color="#fff" stop-opacity="0.3"/></linearGradient></defs>
<rect x="209.4" y="179.3" width="25.8" height="68.6" fill="url(#gg1)"/>
<rect x="210.0" y="179.3" width="10.4" height="68.6" fill="url(#gl1)"/>
<path d="M210.0,196.8 Q210.8,195.52 215.2,195.52 Q219.6,195.52 220.4,196.8" fill="none" stroke="#a4acb6" stroke-width="0.8" opacity="0.7"/>
<path d="M210.0,200.3 Q210.8,199.02 215.2,199.02 Q219.6,199.02 220.4,200.3" fill="none" stroke="#a8b0ba" stroke-width="0.7" opacity="0.6"/>
<path d="M210.0,206.20000000000002 Q210.8,203.96 215.2,203.96 Q219.6,203.96 220.4,206.20000000000002" fill="none" stroke="#564a48" stroke-width="1.8" opacity="1"/>
<path d="M210.0,209.79999999999998 Q210.8,207.88 215.2,207.88 Q219.6,207.88 220.4,209.79999999999998" fill="none" stroke="#8a909c" stroke-width="1.0" opacity="0.9"/>
<path d="M210.0,213.60000000000002 Q210.8,211.52 215.2,211.52 Q219.6,211.52 220.4,213.60000000000002" fill="none" stroke="#7a5444" stroke-width="1.4" opacity="1"/>
<path d="M210.0,216.4 Q210.8,214.8 215.2,214.8 Q219.6,214.8 220.4,216.4" fill="none" stroke="#98a2ae" stroke-width="0.8" opacity="0.7"/>
<path d="M210.0,220.6 Q215.2,218.2 220.4,220.6 L220.4,228.8 Q219.20000000000002,225.0 215.2,224.6 Q211.2,225.0 210.0,228.8 Z" fill="#66240c"/>
<path d="M210.0,223.0 Q215.2,220.4 220.4,223.0 L220.4,226.5 Q215.2,221.8 210.0,226.5 Z" fill="#561a04" opacity="0.8"/>
<rect x="210.0" y="179.3" width="10.4" height="68.6" fill="url(#hz)"/>
<rect x="223.2" y="179.3" width="11.4" height="68.6" fill="url(#gl1)"/>
<path d="M223.2,196.8 Q224.0,195.52 228.89999999999998,195.52 Q233.79999999999998,195.52 234.6,196.8" fill="none" stroke="#a4acb6" stroke-width="0.8" opacity="0.7"/>
<path d="M223.2,200.3 Q224.0,199.02 228.89999999999998,199.02 Q233.79999999999998,199.02 234.6,200.3" fill="none" stroke="#a8b0ba" stroke-width="0.7" opacity="0.6"/>
<path d="M223.2,206.20000000000002 Q224.0,203.96 228.89999999999998,203.96 Q233.79999999999998,203.96 234.6,206.20000000000002" fill="none" stroke="#564a48" stroke-width="1.8" opacity="1"/>
<path d="M223.2,209.79999999999998 Q224.0,207.88 228.89999999999998,207.88 Q233.79999999999998,207.88 234.6,209.79999999999998" fill="none" stroke="#8a909c" stroke-width="1.0" opacity="0.9"/>
<path d="M223.2,213.60000000000002 Q224.0,211.52 228.89999999999998,211.52 Q233.79999999999998,211.52 234.6,213.60000000000002" fill="none" stroke="#7a5444" stroke-width="1.4" opacity="1"/>
<path d="M223.2,216.4 Q224.0,214.8 228.89999999999998,214.8 Q233.79999999999998,214.8 234.6,216.4" fill="none" stroke="#98a2ae" stroke-width="0.8" opacity="0.7"/>
<path d="M223.2,220.6 Q228.89999999999998,218.2 234.6,220.6 L234.6,228.8 Q233.4,225.0 228.89999999999998,224.6 Q224.39999999999998,225.0 223.2,228.8 Z" fill="#66240c"/>
<path d="M223.2,223.0 Q228.89999999999998,220.4 234.6,223.0 L234.6,226.5 Q228.89999999999998,221.8 223.2,226.5 Z" fill="#561a04" opacity="0.8"/>
<rect x="223.2" y="179.3" width="11.4" height="68.6" fill="url(#hz)"/>
<path d="M226.5,247.6 L227.8,233 Q229,230 230.2,233 L231.6,247.6 Z" fill="#2458c0" opacity="0.55"/>
<rect x="248.6" y="179.3" width="21.7" height="67.1" fill="url(#gg2)"/>
<rect x="249.1" y="179.3" width="9.3" height="67.1" fill="url(#gl2)"/>
<path d="M249.4,209 L258.09999999999997,209 L256.2,246.4 L251.29999999999998,246.4 Z" fill="url(#gw2)"/>
<path d="M249.1,189.3 Q249.9,187.86 253.75,187.86 Q257.59999999999997,187.86 258.4,189.3" fill="none" stroke="#7096d2" stroke-width="1.4" opacity="1"/>
<path d="M249.1,192.8 Q249.9,191.36 253.75,191.36 Q257.59999999999997,191.36 258.4,192.8" fill="none" stroke="#88a6d6" stroke-width="1.0" opacity="0.8"/>
<path d="M249.1,196.0 Q249.9,194.56 253.75,194.56 Q257.59999999999997,194.56 258.4,196.0" fill="none" stroke="#80a0d6" stroke-width="1.2" opacity="1"/>
<path d="M249.1,199.3 Q249.9,197.86 253.75,197.86 Q257.59999999999997,197.86 258.4,199.3" fill="none" stroke="#8aa8d4" stroke-width="0.9" opacity="0.8"/>
<path d="M249.1,202.5 Q249.9,201.06 253.75,201.06 Q257.59999999999997,201.06 258.4,202.5" fill="none" stroke="#94b0d8" stroke-width="0.8" opacity="0.6"/>
<path d="M249.1,207.20000000000002 Q249.9,205.12 253.75,205.12 Q257.59999999999997,205.12 258.4,207.20000000000002" fill="none" stroke="#1856d0" stroke-width="2.0" opacity="1"/>
<path d="M249.1,209.5 Q249.9,207.58 253.75,207.58 Q257.59999999999997,207.58 258.4,209.5" fill="none" stroke="#5a8cd8" stroke-width="1.2" opacity="0.8"/>
<path d="M249.1,212.0 Q249.9,210.08 253.75,210.08 Q257.59999999999997,210.08 258.4,212.0" fill="none" stroke="#6a98da" stroke-width="0.9" opacity="0.7"/>
<path d="M249.1,214.6 Q249.9,212.68 253.75,212.68 Q257.59999999999997,212.68 258.4,214.6" fill="none" stroke="#7aa2dc" stroke-width="0.8" opacity="0.6"/>
<rect x="249.1" y="179.3" width="9.3" height="67.1" fill="url(#hz)"/>
<rect x="260.5" y="179.3" width="9.4" height="67.1" fill="url(#gl2)"/>
<path d="M260.8,209 L269.59999999999997,209 L267.7,246.4 L262.7,246.4 Z" fill="url(#gw2)"/>
<path d="M260.5,189.3 Q261.3,187.86 265.2,187.86 Q269.09999999999997,187.86 269.9,189.3" fill="none" stroke="#7096d2" stroke-width="1.4" opacity="1"/>
<path d="M260.5,192.8 Q261.3,191.36 265.2,191.36 Q269.09999999999997,191.36 269.9,192.8" fill="none" stroke="#88a6d6" stroke-width="1.0" opacity="0.8"/>
<path d="M260.5,196.0 Q261.3,194.56 265.2,194.56 Q269.09999999999997,194.56 269.9,196.0" fill="none" stroke="#80a0d6" stroke-width="1.2" opacity="1"/>
<path d="M260.5,199.3 Q261.3,197.86 265.2,197.86 Q269.09999999999997,197.86 269.9,199.3" fill="none" stroke="#8aa8d4" stroke-width="0.9" opacity="0.8"/>
<path d="M260.5,202.5 Q261.3,201.06 265.2,201.06 Q269.09999999999997,201.06 269.9,202.5" fill="none" stroke="#94b0d8" stroke-width="0.8" opacity="0.6"/>
<path d="M260.5,207.20000000000002 Q261.3,205.12 265.2,205.12 Q269.09999999999997,205.12 269.9,207.20000000000002" fill="none" stroke="#1856d0" stroke-width="2.0" opacity="1"/>
<path d="M260.5,209.5 Q261.3,207.58 265.2,207.58 Q269.09999999999997,207.58 269.9,209.5" fill="none" stroke="#5a8cd8" stroke-width="1.2" opacity="0.8"/>
<path d="M260.5,212.0 Q261.3,210.08 265.2,210.08 Q269.09999999999997,210.08 269.9,212.0" fill="none" stroke="#6a98da" stroke-width="0.9" opacity="0.7"/>
<path d="M260.5,214.6 Q261.3,212.68 265.2,212.68 Q269.09999999999997,212.68 269.9,214.6" fill="none" stroke="#7aa2dc" stroke-width="0.8" opacity="0.6"/>
<rect x="260.5" y="179.3" width="9.4" height="67.1" fill="url(#hz)"/>
<text transform="translate(215.8,175.0) rotate(-50) scale(1,1.12)" font-size="5.7" font-weight="normal" fill="#000" stroke="#000" style="stroke-width:0.38px">TmControl</text>
<text transform="translate(230.2,175.0) rotate(-50) scale(1,1.12)" font-size="5.7" font-weight="normal" fill="#000" stroke="#000" style="stroke-width:0.38px">TmA6<tspan font-size="3.2" dy="-2">MUT</tspan></text>
<text transform="translate(252.8,175.0) rotate(-50) scale(1,1.12)" font-size="5.7" font-weight="normal" fill="#000" stroke="#000" style="stroke-width:0.38px">TmControl</text>
<text transform="translate(267.4,175.0) rotate(-50) scale(1,1.12)" font-size="5.7" font-weight="normal" fill="#000" stroke="#000" style="stroke-width:0.38px">TmA6<tspan font-size="3.2" dy="-2">MUT</tspan></text>
<polyline points="209.4,183.4 208.3,183.4 208.3,195.0 209.4,195.0" fill="none" stroke="#999" stroke-width="0.5"/>
<text transform="translate(205.0,190.4) scale(1,1.15)" font-size="3.75" font-weight="normal" text-anchor="end" fill="#000" stroke="#000" style="stroke-width:0.2px" >CIV-SC</text>
<text transform="translate(206.2,208.0) scale(1,1.15)" font-size="3.8" font-weight="normal" text-anchor="end" fill="#000" stroke="#000" style="stroke-width:0.2px" >SCIII<tspan font-size="2.6" dy="0.8">2</tspan><tspan dy="-0.8">/IV</tspan></text>
<text transform="translate(206.4,215.0) scale(1,1.15)" font-size="3.8" font-weight="normal" text-anchor="end" fill="#000" stroke="#000" style="stroke-width:0.2px" >CIV<tspan font-size="2.6" dy="0.8">2</tspan></text>
<text transform="translate(207.0,228.9) scale(1,1.15)" font-size="3.9" font-weight="normal" text-anchor="end" fill="#000" stroke="#000" style="stroke-width:0.22px" >CIV</text>
<text transform="translate(222.1,258.1) scale(1,1.15)" font-size="4.4" font-weight="normal" text-anchor="middle" fill="#000" stroke="#000" style="stroke-width:0.2px" >CIV-IGA</text>
<polyline points="272.3,186.5 273.4,186.5 273.4,198.6 272.3,198.6" fill="none" stroke="#999" stroke-width="0.5"/>
<text transform="translate(275.5,194.0) scale(1,1.15)" font-size="4.9" font-weight="normal" text-anchor="start" fill="#000" stroke="#000" style="stroke-width:0.25px" >SC</text>
<text transform="translate(271.1,208.4) scale(1,1.15)" font-size="5.0" font-weight="normal" text-anchor="start" fill="#000" stroke="#000" style="stroke-width:0.25px" >CV</text>
<text transform="translate(259.4,258.1) scale(1,1.15)" font-size="5.0" font-weight="normal" text-anchor="middle" fill="#000" stroke="#000" style="stroke-width:0.25px" >Coomassie</text>
<text transform="translate(294.5,165.6) scale(0.86,1.0)" font-size="9.8" font-weight="bold" text-anchor="start" fill="#000" stroke="#000" style="stroke-width:0.36px" >F</text>
<rect x="337.2" y="171.1" width="208.80" height="68.50" fill="none" stroke="#999" stroke-width="0.7"/>
<line x1="337.2" y1="171.1" x2="337.2" y2="239.6" stroke="#999" stroke-width="0.8" />
<line x1="337.2" y1="239.6" x2="546.0" y2="239.6" stroke="#888" stroke-width="0.8" />
<line x1="442.2" y1="171.1" x2="442.2" y2="239.6" stroke="#888" stroke-width="0.7" />
<line x1="337.2" y1="239.6" x2="338.4" y2="239.6" stroke="#999" stroke-width="0.6" />
<line x1="546.0" y1="239.6" x2="547.3" y2="239.6" stroke="#999" stroke-width="0.6" />
<text transform="translate(333.8,241.79999999999998) scale(1,1.05)" font-size="6.3" font-weight="normal" text-anchor="end" fill="#000" stroke="#000" style="stroke-width:0.42px" >0</text>
<line x1="337.2" y1="229.81428571428572" x2="338.4" y2="229.81428571428572" stroke="#999" stroke-width="0.6" />
<line x1="546.0" y1="229.81428571428572" x2="547.3" y2="229.81428571428572" stroke="#999" stroke-width="0.6" />
<text transform="translate(333.8,232.0142857142857) scale(1,1.05)" font-size="6.3" font-weight="normal" text-anchor="end" fill="#000" stroke="#000" style="stroke-width:0.42px" >20</text>
<line x1="337.2" y1="220.0285714285714" x2="338.4" y2="220.0285714285714" stroke="#999" stroke-width="0.6" />
<line x1="546.0" y1="220.0285714285714" x2="547.3" y2="220.0285714285714" stroke="#999" stroke-width="0.6" />
<text transform="translate(333.8,222.2285714285714) scale(1,1.05)" font-size="6.3" font-weight="normal" text-anchor="end" fill="#000" stroke="#000" style="stroke-width:0.42px" >40</text>
<line x1="337.2" y1="210.24285714285713" x2="338.4" y2="210.24285714285713" stroke="#999" stroke-width="0.6" />
<line x1="546.0" y1="210.24285714285713" x2="547.3" y2="210.24285714285713" stroke="#999" stroke-width="0.6" />
<text transform="translate(333.8,212.44285714285712) scale(1,1.05)" font-size="6.3" font-weight="normal" text-anchor="end" fill="#000" stroke="#000" style="stroke-width:0.42px" >60</text>
<line x1="337.2" y1="200.45714285714286" x2="338.4" y2="200.45714285714286" stroke="#999" stroke-width="0.6" />
<line x1="546.0" y1="200.45714285714286" x2="547.3" y2="200.45714285714286" stroke="#999" stroke-width="0.6" />
<text transform="translate(333.8,202.65714285714284) scale(1,1.05)" font-size="6.3" font-weight="normal" text-anchor="end" fill="#000" stroke="#000" style="stroke-width:0.42px" >80</text>
<line x1="337.2" y1="190.67142857142858" x2="338.4" y2="190.67142857142858" stroke="#999" stroke-width="0.6" />
<line x1="546.0" y1="190.67142857142858" x2="547.3" y2="190.67142857142858" stroke="#999" stroke-width="0.6" />
<text transform="translate(333.8,192.87142857142857) scale(1,1.05)" font-size="6.3" font-weight="normal" text-anchor="end" fill="#000" stroke="#000" style="stroke-width:0.42px" >100</text>
<line x1="337.2" y1="180.88571428571427" x2="338.4" y2="180.88571428571427" stroke="#999" stroke-width="0.6" />
<line x1="546.0" y1="180.88571428571427" x2="547.3" y2="180.88571428571427" stroke="#999" stroke-width="0.6" />
<text transform="translate(333.8,183.08571428571426) scale(1,1.05)" font-size="6.3" font-weight="normal" text-anchor="end" fill="#000" stroke="#000" style="stroke-width:0.42px" >120</text>
<line x1="337.2" y1="171.1" x2="338.4" y2="171.1" stroke="#999" stroke-width="0.6" />
<line x1="546.0" y1="171.1" x2="547.3" y2="171.1" stroke="#999" stroke-width="0.6" />
<text transform="translate(333.8,173.29999999999998) scale(1,1.05)" font-size="6.3" font-weight="normal" text-anchor="end" fill="#000" stroke="#000" style="stroke-width:0.42px" >140</text>
<line x1="337.2" y1="234.70714285714286" x2="338.0" y2="234.70714285714286" stroke="#aaa" stroke-width="0.4" />
<line x1="545.2" y1="234.70714285714286" x2="546.0" y2="234.70714285714286" stroke="#aaa" stroke-width="0.4" />
<line x1="337.2" y1="224.92142857142858" x2="338.0" y2="224.92142857142858" stroke="#aaa" stroke-width="0.4" />
<line x1="545.2" y1="224.92142857142858" x2="546.0" y2="224.92142857142858" stroke="#aaa" stroke-width="0.4" />
<line x1="337.2" y1="215.13571428571427" x2="338.0" y2="215.13571428571427" stroke="#aaa" stroke-width="0.4" />
<line x1="545.2" y1="215.13571428571427" x2="546.0" y2="215.13571428571427" stroke="#aaa" stroke-width="0.4" />
<line x1="337.2" y1="205.35" x2="338.0" y2="205.35" stroke="#aaa" stroke-width="0.4" />
<line x1="545.2" y1="205.35" x2="546.0" y2="205.35" stroke="#aaa" stroke-width="0.4" />
<line x1="337.2" y1="195.56428571428572" x2="338.0" y2="195.56428571428572" stroke="#aaa" stroke-width="0.4" />
<line x1="545.2" y1="195.56428571428572" x2="546.0" y2="195.56428571428572" stroke="#aaa" stroke-width="0.4" />
<line x1="337.2" y1="185.7785714285714" x2="338.0" y2="185.7785714285714" stroke="#aaa" stroke-width="0.4" />
<line x1="545.2" y1="185.7785714285714" x2="546.0" y2="185.7785714285714" stroke="#aaa" stroke-width="0.4" />
<line x1="337.2" y1="175.99285714285713" x2="338.0" y2="175.99285714285713" stroke="#aaa" stroke-width="0.4" />
<line x1="545.2" y1="175.99285714285713" x2="546.0" y2="175.99285714285713" stroke="#aaa" stroke-width="0.4" />
<rect x="345.4" y="185.3" width="26.20" height="11.00" fill="#000" stroke="none" stroke-width="0.8"/>
<line x1="345.4" y1="193.4" x2="371.6" y2="193.4" stroke="#ddd" stroke-width="0.7" />
<rect x="378.3" y="199.0" width="27.10" height="9.50" fill="#fff" stroke="#555" stroke-width="0.7"/>
<line x1="378.3" y1="204.5" x2="405.4" y2="204.5" stroke="#999" stroke-width="0.7" />
<rect x="408.4" y="218.3" width="27.40" height="5.30" fill="#bdbdbd" stroke="#666" stroke-width="0.7"/>
<line x1="408.4" y1="221" x2="435.8" y2="221" stroke="#999" stroke-width="0.5" />
<polyline points="359.2,180.6 359.2,178.8 390.5,178.8 390.5,180.6" fill="none" stroke="#999" stroke-width="0.55"/>
<text transform="translate(374.4,176.65699999999998) scale(1,1.0)" font-size="4.2" font-weight="bold" text-anchor="middle" fill="#000" stroke="#000" style="stroke-width:0.45px" >*</text>
<polyline points="391.2,191.0 391.2,189.2 422.7,189.2 422.7,191.0" fill="none" stroke="#999" stroke-width="0.55"/>
<text transform="translate(404.5,188.557) scale(1,1.0)" font-size="4.2" font-weight="bold" text-anchor="middle" fill="#000" stroke="#000" style="stroke-width:0.45px" >*</text>
<polyline points="366.5,224.4 366.5,226.1 423.7,226.1 423.7,224.4" fill="none" stroke="#999" stroke-width="0.55"/>
<text transform="translate(391.2,233.257) scale(1,1.0)" font-size="4.2" font-weight="bold" text-anchor="middle" fill="#000" stroke="#000" style="stroke-width:0.45px" >*</text>
<text transform="translate(340.1,237.8) scale(1,1.15)" font-size="4.8" font-weight="bold" text-anchor="start" fill="#000" stroke="#000" style="stroke-width:0.36px" >IA</text>
<rect x="450.4" y="189.0" width="26.00" height="3.80" fill="#000" stroke="none" stroke-width="0.8"/>
<rect x="480.0" y="219.4" width="27.10" height="3.50" fill="#fff" stroke="#666" stroke-width="0.7"/>
<line x1="480.0" y1="221.1" x2="507.1" y2="221.1" stroke="#bbb" stroke-width="0.5" />
<rect x="510.5" y="209.0" width="27.40" height="3.50" fill="#c4c4c4" stroke="#777" stroke-width="0.7"/>
<line x1="510.5" y1="210.8" x2="537.9" y2="210.8" stroke="#999" stroke-width="0.5" />
<polyline points="463.3,182.8 463.3,181.1 519.8,181.1 519.8,182.8" fill="none" stroke="#999" stroke-width="0.55"/>
<text transform="translate(495.4,179.057) scale(1,1.0)" font-size="4.2" font-weight="bold" text-anchor="middle" fill="#000" stroke="#000" style="stroke-width:0.45px" >*</text>
<polyline points="463.3,186.5 463.3,184.7 495.2,184.7 495.2,186.5" fill="none" stroke="#999" stroke-width="0.55"/>
<text transform="translate(479.8,185.65699999999998) scale(1,1.0)" font-size="4.2" font-weight="bold" text-anchor="middle" fill="#000" stroke="#000" style="stroke-width:0.45px" >*</text>
<polyline points="489.5,207.0 489.5,205.2 521.3,205.2 521.3,207.0" fill="none" stroke="#999" stroke-width="0.55"/>
<text transform="translate(504.2,204.457) scale(1,1.0)" font-size="4.2" font-weight="bold" text-anchor="middle" fill="#000" stroke="#000" style="stroke-width:0.45px" >*</text>
<text transform="translate(447.3,237.8) scale(1,1.15)" font-size="4.8" font-weight="bold" text-anchor="start" fill="#000" stroke="#000" style="stroke-width:0.36px" >DCA</text>
<text transform="translate(314.5,203.7) rotate(-90) scale(1,1.0)" font-size="7.5" font-weight="normal" text-anchor="middle" fill="#000" stroke="#000" style="stroke-width:0.4px">IC<tspan font-size="4.7" dy="1.3">50</tspan><tspan dy="-1.3"> (% of TmControl)</tspan></text>
<text transform="translate(358.6,249.6) scale(1,1.15)" font-size="6.0" font-weight="normal" text-anchor="middle" fill="#000" stroke="#000" style="stroke-width:0.4px" >TmControl</text>
<text transform="translate(463.6,249.6) scale(1,1.15)" font-size="6.0" font-weight="normal" text-anchor="middle" fill="#000" stroke="#000" style="stroke-width:0.4px" >TmControl</text>
<text transform="translate(393.9,249.6) scale(1,1.15)" font-size="6.0" font-weight="normal" text-anchor="middle" fill="#000" stroke="#000" style="stroke-width:0.4px" >TmA6<tspan font-size="3.7" dy="-1.7">MUT</tspan></text>
<text transform="translate(498.9,249.6) scale(1,1.15)" font-size="6.0" font-weight="normal" text-anchor="middle" fill="#000" stroke="#000" style="stroke-width:0.4px" >TmA6<tspan font-size="3.7" dy="-1.7">MUT</tspan></text>
<text transform="translate(420.5,249.4) scale(1,1.15)" font-size="6.0" font-weight="normal" text-anchor="middle" fill="#000" stroke="#000" style="stroke-width:0.4px" >ρ<tspan font-size="3.8" dy="-2.4" dx="0.2">0</tspan></text>
<text transform="translate(526.5,249.4) scale(1,1.15)" font-size="6.0" font-weight="normal" text-anchor="middle" fill="#000" stroke="#000" style="stroke-width:0.4px" >ρ<tspan font-size="3.8" dy="-2.4" dx="0.2">0</tspan></text>
</svg>
</body></html>
